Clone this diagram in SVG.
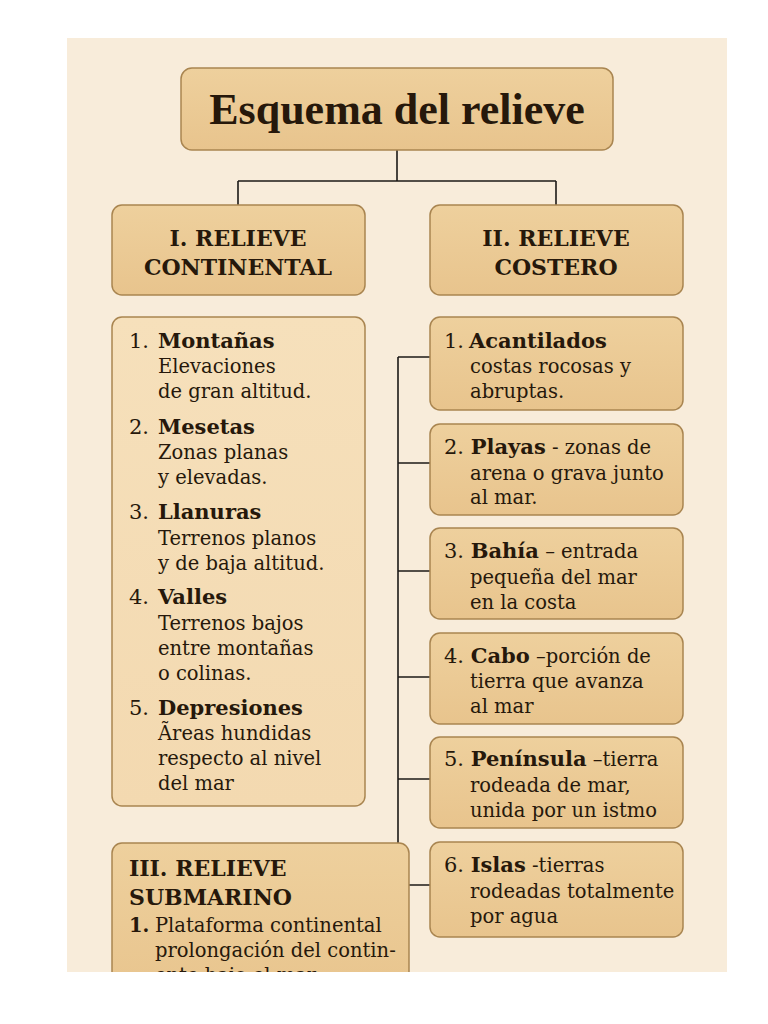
<svg xmlns="http://www.w3.org/2000/svg" width="768" height="1024" viewBox="0 0 768 1024">
<defs>
<linearGradient id="gBox" x1="0" y1="0" x2="0" y2="1">
<stop offset="0" stop-color="#eed09d"/>
<stop offset="1" stop-color="#e8c48d"/>
</linearGradient>
<linearGradient id="gLight" x1="0" y1="0" x2="0" y2="1">
<stop offset="0" stop-color="#f6e0bb"/>
<stop offset="1" stop-color="#f3d9b0"/>
</linearGradient>
<clipPath id="panelClip"><rect x="67" y="38" width="660" height="934"/></clipPath>
</defs>
<style>
.box{fill:url(#gBox);stroke:#a98550;stroke-width:1.5}
.light{fill:url(#gLight);stroke:#a98550;stroke-width:1.5}
.conn{stroke:#1c1a17;stroke-width:1.6;fill:none}
text{fill:#26180b;font-family:"DejaVu Serif","Liberation Serif",serif}
.title{font-family:"Liberation Serif","DejaVu Serif",serif;font-weight:bold;font-size:44px}
.hdr{font-weight:bold;font-size:22px}
.item{font-weight:bold;font-size:21px}
.num{font-size:21px}
.body{font-size:19.5px}
</style>
<rect x="0" y="0" width="768" height="1024" fill="#ffffff"/>
<rect x="67" y="38" width="660" height="934" fill="#f8ecda"/>

<g id="connectors">
<path class="conn" d="M397 150 V181 M238 181 H556 M238 181 V205 M556 181 V205"/>
<path class="conn" d="M398 357 V846 M398 357 H430 M398 463 H430 M398 571 H430 M398 677 H430 M398 779 H430 M409 885 H430"/>
</g>

<g id="title">
<rect class="box" x="181" y="68" width="432" height="82" rx="11"/>
<text class="title" x="397" y="124" text-anchor="middle">Esquema del relieve</text>
</g>

<g id="relieve-continental">
<rect class="box" x="112" y="205" width="253" height="90" rx="10"/>
<text class="hdr" x="238" y="246" text-anchor="middle">I. RELIEVE</text>
<text class="hdr" x="238" y="275" text-anchor="middle">CONTINENTAL</text>
</g>

<g id="relieve-costero">
<rect class="box" x="430" y="205" width="253" height="90" rx="10"/>
<text class="hdr" x="556" y="246" text-anchor="middle">II. RELIEVE</text>
<text class="hdr" x="556" y="275" text-anchor="middle">COSTERO</text>
</g>

<g id="lista-continental">
<rect class="light" x="112" y="317" width="253" height="489" rx="10"/>
<text class="num" x="129" y="348">1.</text><text class="item" x="158" y="348">Montañas</text>
<text class="body" x="158" y="373">Elevaciones</text>
<text class="body" x="158" y="398">de gran altitud.</text>
<text class="num" x="129" y="434">2.</text><text class="item" x="158" y="434">Mesetas</text>
<text class="body" x="158" y="459">Zonas planas</text>
<text class="body" x="158" y="484">y elevadas.</text>
<text class="num" x="129" y="519">3.</text><text class="item" x="158" y="519">Llanuras</text>
<text class="body" x="158" y="545">Terrenos planos</text>
<text class="body" x="158" y="570">y de baja altitud.</text>
<text class="num" x="129" y="604">4.</text><text class="item" x="158" y="604">Valles</text>
<text class="body" x="158" y="630">Terrenos bajos</text>
<text class="body" x="158" y="655">entre montañas</text>
<text class="body" x="158" y="680">o colinas.</text>
<text class="num" x="129" y="715">5.</text><text class="item" x="158" y="715">Depresiones</text>
<text class="body" x="158" y="740">Ãreas hundidas</text>
<text class="body" x="158" y="765">respecto al nivel</text>
<text class="body" x="158" y="790">del mar</text>
</g>

<g id="acantilados">
<rect class="box" x="430" y="317" width="253" height="93" rx="10"/>
<text class="num" x="444" y="348">1.</text><text class="item" x="469" y="348">Acantilados</text>
<text class="body" x="470" y="373">costas rocosas y</text>
<text class="body" x="470" y="398">abruptas.</text>
</g>

<g id="playas">
<rect class="box" x="430" y="424" width="253" height="91" rx="10"/>
<text x="444" y="454"><tspan class="num">2. </tspan><tspan class="item">Playas</tspan><tspan class="body"> - zonas de</tspan></text>
<text class="body" x="470" y="480">arena o grava junto</text>
<text class="body" x="470" y="504">al mar.</text>
</g>

<g id="bahia">
<rect class="box" x="430" y="528" width="253" height="91" rx="10"/>
<text x="444" y="558"><tspan class="num">3. </tspan><tspan class="item">Bahía</tspan><tspan class="body"> – entrada</tspan></text>
<text class="body" x="470" y="584">pequeña del mar</text>
<text class="body" x="470" y="609">en la costa</text>
</g>

<g id="cabo">
<rect class="box" x="430" y="633" width="253" height="91" rx="10"/>
<text x="444" y="663"><tspan class="num">4. </tspan><tspan class="item">Cabo</tspan><tspan class="body"> –porción de</tspan></text>
<text class="body" x="470" y="688">tierra que avanza</text>
<text class="body" x="470" y="713">al mar</text>
</g>

<g id="peninsula">
<rect class="box" x="430" y="737" width="253" height="91" rx="10"/>
<text x="444" y="766"><tspan class="num">5. </tspan><tspan class="item">Península</tspan><tspan class="body"> –tierra</tspan></text>
<text class="body" x="470" y="792">rodeada de mar,</text>
<text class="body" x="470" y="817">unida por un istmo</text>
</g>

<g id="islas">
<rect class="box" x="430" y="842" width="253" height="95" rx="10"/>
<text x="444" y="872"><tspan class="num">6. </tspan><tspan class="item">Islas</tspan><tspan class="body"> -tierras</tspan></text>
<text class="body" x="470" y="898">rodeadas totalmente</text>
<text class="body" x="470" y="923">por agua</text>
</g>

<g id="relieve-submarino" clip-path="url(#panelClip)">
<rect class="box" x="112" y="843" width="297" height="160" rx="10"/>
<text class="hdr" x="129" y="876">III. RELIEVE</text>
<text class="hdr" x="129" y="905">SUBMARINO</text>
<text class="body" x="129" y="932" font-weight="bold">1.</text><text class="body" x="155" y="932">Plataforma continental</text>
<text class="body" x="155" y="957">prolongación del contin-</text>
<text class="body" x="155" y="982">ente bajo el mar.</text>
</g>
</svg>
